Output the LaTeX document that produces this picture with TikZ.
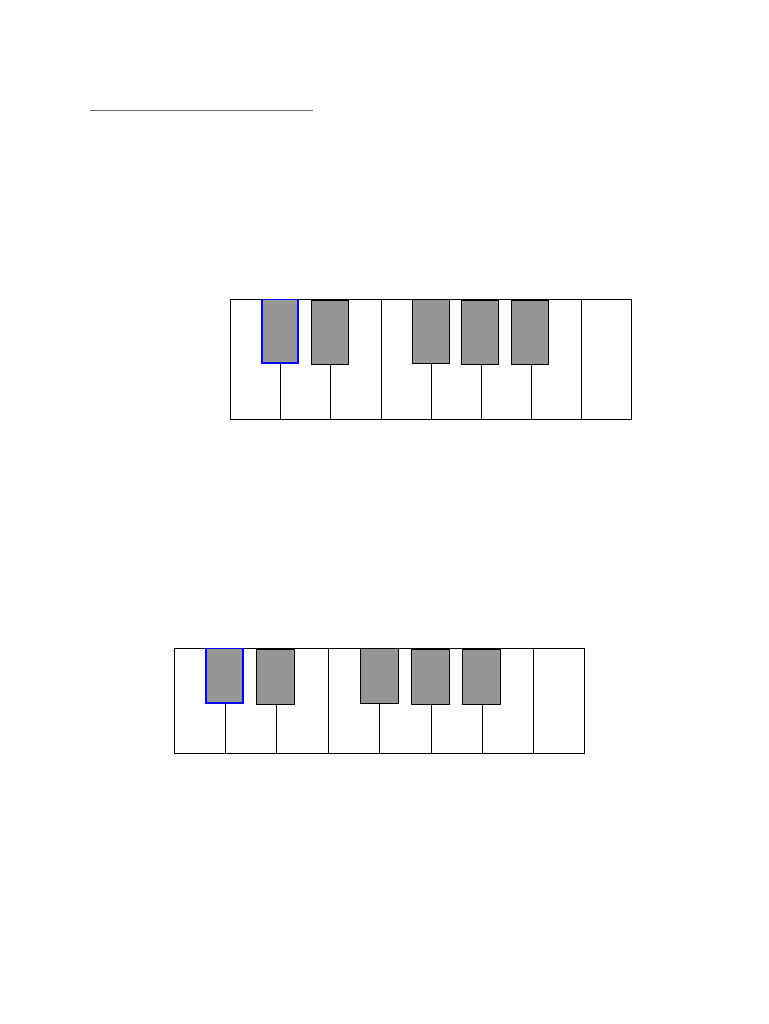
\documentclass[tikz,border=0pt]{standalone}
\usepackage{tikz}

\begin{document}
\begin{tikzpicture}[x=0.75pt, y=-0.75pt, line width=0.75pt]
  \useasboundingbox (0,0) rectangle (768,1024);
  \tikzset{blackkey/.style={draw=black, fill=black!41},
           blackkeysel/.style={draw=blue, fill=black!41, line width=1pt}}

  \draw[black!60] (90,110.5) -- (313,110.5);

  % upper keyboard
  \draw (230.5,299) rectangle (631,419);
  \draw (280.5,299) -- (280.5,419);
  \draw (330.5,299) -- (330.5,419);
  \draw (381,299) -- (381,419);
  \draw (431,299) -- (431,419);
  \draw (481,299) -- (481,419);
  \draw (531,299) -- (531,419);
  \draw (581,299) -- (581,419);

  \draw[blackkeysel] (262,299.5) rectangle (298,363);
  \draw[blackkey] (311.5,300.5) rectangle (348,364.5);
  \draw[blackkey] (412,299.5) rectangle (449,363.5);
  \draw[blackkey] (461.5,300.5) rectangle (498.5,364.5);
  \draw[blackkey] (511.5,300.5) rectangle (548.5,364.5);

  % lower keyboard
  \draw (174.5,648) rectangle (584.5,753.5);
  \draw (225.5,648) -- (225.5,753.5);
  \draw (276.5,648) -- (276.5,753.5);
  \draw (328,648) -- (328,753.5);
  \draw (379,648) -- (379,753.5);
  \draw (431,648) -- (431,753.5);
  \draw (482,648) -- (482,753.5);
  \draw (533.5,648) -- (533.5,753.5);

  \draw[blackkeysel] (206,648.5) rectangle (243,703);
  \draw[blackkey] (256.5,649) rectangle (294.5,704.5);
  \draw[blackkey] (360,648.5) rectangle (398,703.5);
  \draw[blackkey] (411,649) rectangle (449,704.5);
  \draw[blackkey] (462.5,649) rectangle (500.5,704.5);
\end{tikzpicture}
\end{document}
